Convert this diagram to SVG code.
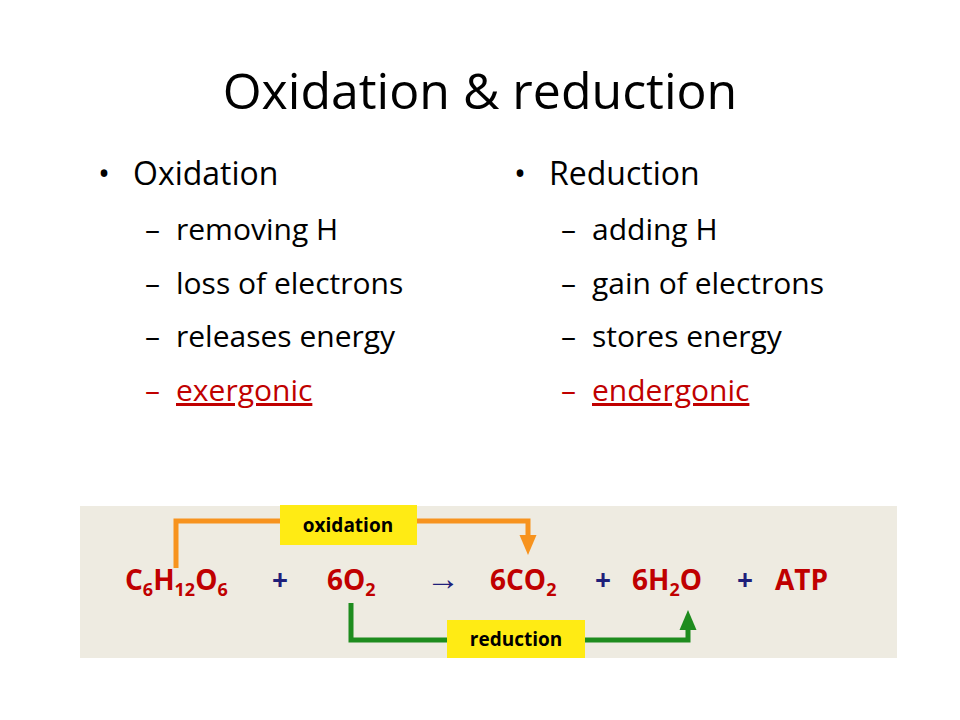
<svg xmlns="http://www.w3.org/2000/svg" width="960" height="720" viewBox="0 0 960 720">
<style>
text{font-family:"Open Sans","Liberation Sans",sans-serif}
.b{font-size:32px;fill:#000}
.s{font-size:30px;fill:#000}
.r{fill:#C00000}
.eq{font-size:28px;font-weight:bold;fill:#C00000}
.pl{fill:#1F1F7A}
.lab{font-size:19px;font-weight:bold;fill:#000}
</style>
<defs>
<marker id="ao" markerWidth="4" markerHeight="4" refX="2" refY="2" orient="auto" markerUnits="strokeWidth"><path d="M0,0.3 L4,2 L0,3.7Z" fill="#F7931E"/></marker>
<marker id="ag" markerWidth="4" markerHeight="4" refX="2" refY="2" orient="auto" markerUnits="strokeWidth"><path d="M0,0.3 L4,2 L0,3.7Z" fill="#1E8C1E"/></marker>
</defs>
<rect width="960" height="720" fill="#fff"/>
<text x="480" y="109" text-anchor="middle" font-size="50" font-family="Open Sans">Oxidation &amp; reduction</text>
<g id="left">
<text x="98" y="185" class="b">•</text><text x="133" y="185" class="b">Oxidation</text>
<text x="145" y="240" class="s">–</text><text x="176" y="240" class="s">removing H</text>
<text x="145" y="294" class="s">–</text><text x="176" y="294" class="s">loss of electrons</text>
<text x="145" y="347" class="s">–</text><text x="176" y="347" class="s">releases energy</text>
<text x="145" y="401" class="s r">–</text><text x="176" y="401" class="s r" text-decoration="underline">exergonic</text>
</g>
<g id="right">
<text x="514" y="185" class="b">•</text><text x="549" y="185" class="b">Reduction</text>
<text x="561" y="240" class="s">–</text><text x="592" y="240" class="s">adding H</text>
<text x="561" y="294" class="s">–</text><text x="592" y="294" class="s">gain of electrons</text>
<text x="561" y="347" class="s">–</text><text x="592" y="347" class="s">stores energy</text>
<text x="561" y="401" class="s r">–</text><text x="592" y="401" class="s r" text-decoration="underline">endergonic</text>
</g>
<rect x="80" y="506" width="817" height="152" fill="#EEEBE1"/>
<g id="connectors" fill="none" stroke-width="5">
<path d="M176,568 V521 H528 V545" stroke="#F7931E" marker-end="url(#ao)"/>
<path d="M351,603 V640 H688 V620" stroke="#1E8C1E" marker-end="url(#ag)"/>
</g>
<g id="oxidation"><rect x="280" y="505" width="137" height="40" fill="#FFEB14"/><text x="348" y="532" text-anchor="middle" class="lab">oxidation</text></g>
<g id="reduction"><rect x="447" y="620" width="138" height="38" fill="#FFEB14"/><text x="516" y="646" text-anchor="middle" class="lab">reduction</text></g>
<g id="equation">
<text x="125" y="590" class="eq">C<tspan font-size="18" dy="6">6</tspan><tspan dy="-6">H</tspan><tspan font-size="18" dy="6">12</tspan><tspan dy="-6">O</tspan><tspan font-size="18" dy="6">6</tspan></text>
<text x="280" y="590" text-anchor="middle" class="eq pl">+</text>
<text x="327" y="590" class="eq">6O<tspan font-size="18" dy="6">2</tspan></text>
<text x="443" y="590" text-anchor="middle" font-size="34" fill="#1F1F7A" font-family="Liberation Serif">→</text>
<text x="490" y="590" class="eq">6CO<tspan font-size="18" dy="6">2</tspan></text>
<text x="603" y="590" text-anchor="middle" class="eq pl">+</text>
<text x="632" y="590" class="eq">6H<tspan font-size="18" dy="6">2</tspan><tspan dy="-6">O</tspan></text>
<text x="745" y="590" text-anchor="middle" class="eq pl">+</text>
<text x="775" y="590" class="eq">ATP</text>
</g>
</svg>
